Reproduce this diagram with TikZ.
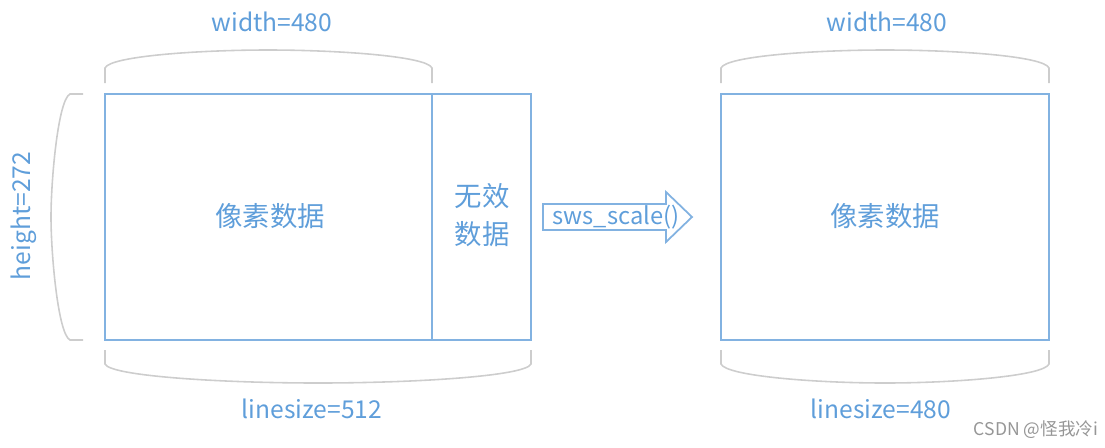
\documentclass[tikz,border=0pt]{standalone}
\usepackage{fontspec}
\setmainfont{Noto Sans CJK SC}
\usetikzlibrary{positioning,calc}
\definecolor{boxblue}{RGB}{130,178,225}
\definecolor{textblue}{RGB}{95,158,218}
\definecolor{bracegray}{RGB}{205,205,205}
\definecolor{markgray}{RGB}{150,150,150}

\tikzset{
  lbl/.style={text=textblue, font=\fontsize{14}{17}\selectfont, inner sep=0pt},
  cjk/.style={text=textblue, font=\fontsize{15.6}{21.5}\selectfont, inner sep=0pt},
  brace/.style={draw=bracegray, line width=0.9pt},
  buf/.style={draw=boxblue, line width=1pt},
}

\begin{document}
\begin{tikzpicture}[x=0.02cm, y=-0.02cm]

% Canvas
\useasboundingbox (0,0) rectangle (1105,447);

% Source frame (with padding)
\draw[buf] (105,94) rectangle (531,340);
\draw[buf] (432,94) -- (432,340);

% Scaled frame
\draw[buf] (721,94) rectangle (1049,340);

% Top braces
\draw[brace] (105,83) -- (105,68) .. controls (110,56) and (200,50) .. (268,50)
  .. controls (336,50) and (427,56) .. (432,68) -- (432,83);
\draw[brace] (721,83) -- (721,68) .. controls (726,56) and (815,50) .. (885,50)
  .. controls (955,50) and (1044,56) .. (1049,68) -- (1049,83);

% Bottom braces
\draw[brace] (105,350) -- (105,364) .. controls (110,376) and (220,383) .. (318,383)
  .. controls (416,383) and (526,376) .. (531,364) -- (531,350);
\draw[brace] (721,350) -- (721,364) .. controls (726,376) and (815,383) .. (885,383)
  .. controls (955,383) and (1044,376) .. (1049,364) -- (1049,350);

% Side brace
\draw[brace] (83,94) -- (70,94) .. controls (58,100) and (51,180) .. (51,217)
  .. controls (51,254) and (58,334) .. (70,340) -- (83,340);

% Block arrow
\draw[buf] (543,204) -- (666,204) -- (666,192) -- (692,217) -- (666,242)
  -- (666,230) -- (543,230) -- cycle;
\node[lbl, font=\fontsize{13.5}{16}\selectfont] (call) at (616,217) {sws\_scale()};

% Labels
\node[lbl] (srcw) at (272,22) {width=480};
\node[lbl] (dstw) at (887,22) {width=480};
\node[lbl] (srcl) at (312,409) {linesize=512};
\node[lbl] (dstl) at (881,409) {linesize=480};
\node[lbl, rotate=90] (srch) at (24,216) {height=272};

\node[cjk] (srcpix) at (270,216) {像素数据};
\node[cjk, align=center] (pad) at (482,215) {无效\\数据};
\node[cjk] (dstpix) at (885,216) {像素数据};

% Watermark
\node[text=markgray, font=\fontsize{10}{12}\selectfont, inner sep=0pt] (mark) at (1036,430) {CSDN @怪我冷i};

\end{tikzpicture}
\end{document}
